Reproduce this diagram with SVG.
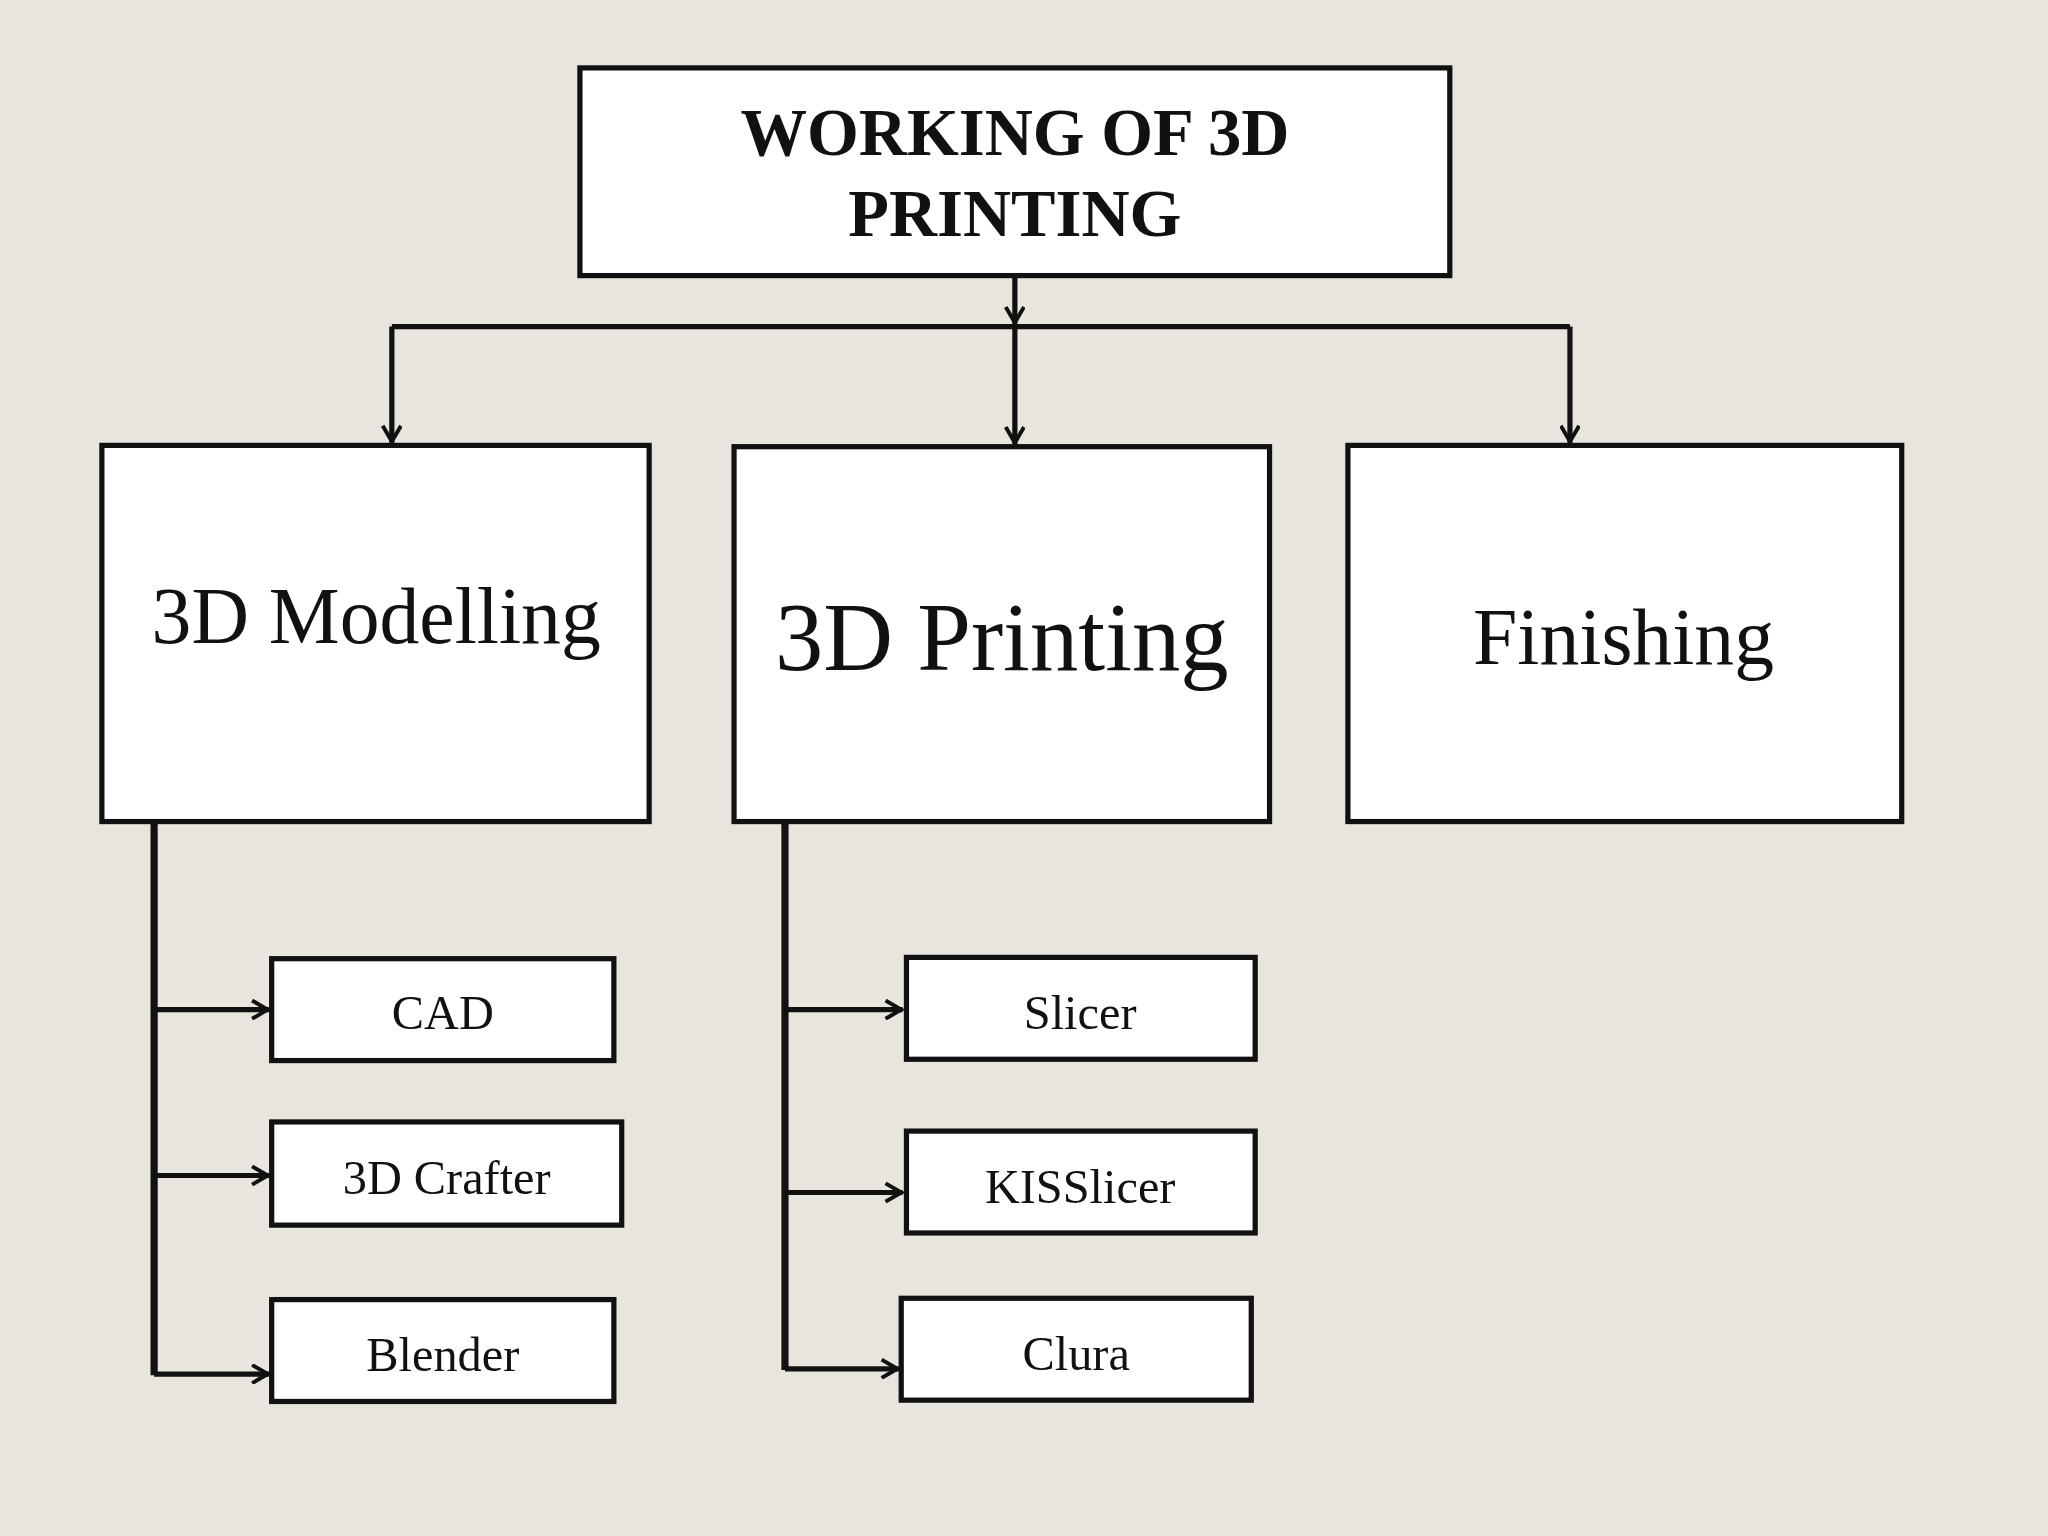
<svg xmlns="http://www.w3.org/2000/svg" width="2048" height="1536" viewBox="0 0 2048 1536">
<style>
.b{fill:#fff;stroke:#111;stroke-width:4}
.t{font-family:"Liberation Serif",serif;fill:#111;text-anchor:middle}
.c{fill:none;stroke:#111;stroke-width:4}
.v{fill:none;stroke:#111;stroke-width:5.5}
</style>
<defs>
<marker id="a" viewBox="0 0 16 16" refX="15" refY="8" markerWidth="16" markerHeight="16" markerUnits="userSpaceOnUse" orient="auto">
<path d="M2,1 L14,8 L2,15" fill="none" stroke="#111" stroke-width="3"/>
</marker>
</defs>
<rect width="2048" height="1536" fill="#e8e4de"/>
<g transform="scale(1.30612)">
<g id="connectors">
<path class="c" d="M777,211 V248" marker-end="url(#a)"/>
<path class="c" d="M300,250 H1202"/>
<path class="c" d="M300,250 V339" marker-end="url(#a)"/>
<path class="c" d="M777,250 V340" marker-end="url(#a)"/>
<path class="c" d="M1202,250 V339" marker-end="url(#a)"/>
<path class="v" d="M118,629 V1053"/>
<path class="c" d="M118,773 H206" marker-end="url(#a)"/>
<path class="c" d="M118,900 H206" marker-end="url(#a)"/>
<path class="c" d="M118,1052 H206" marker-end="url(#a)"/>
<path class="v" d="M601,625 V1049"/>
<path class="c" d="M601,773 H691" marker-end="url(#a)"/>
<path class="c" d="M601,913 H691" marker-end="url(#a)"/>
<path class="c" d="M601,1048 H688" marker-end="url(#a)"/>
</g>
<g id="top"><rect class="b" x="444" y="52" width="666" height="159"/>
<text class="t" x="777" y="119" font-size="51" font-weight="bold">WORKING OF 3D</text>
<text class="t" x="777" y="181" font-size="51" font-weight="bold">PRINTING</text></g>
<g id="modelling"><rect class="b" x="78" y="341" width="419" height="288"/><text class="t" x="288" y="492" font-size="61">3D Modelling</text></g>
<g id="printing"><rect class="b" x="562" y="342" width="410" height="287"/><text class="t" x="767" y="513" font-size="74">3D Printing</text></g>
<g id="finishing"><rect class="b" x="1032" y="341" width="424" height="288"/><text class="t" x="1243" y="508" font-size="61">Finishing</text></g>
<g id="cad"><rect class="b" x="208" y="734" width="262" height="78"/><text class="t" x="339" y="788" font-size="37">CAD</text></g>
<g id="crafter"><rect class="b" x="208" y="859" width="268" height="79"/><text class="t" x="342" y="914" font-size="37">3D Crafter</text></g>
<g id="blender"><rect class="b" x="208" y="995" width="262" height="78"/><text class="t" x="339" y="1050" font-size="37">Blender</text></g>
<g id="slicer"><rect class="b" x="694" y="733" width="267" height="78"/><text class="t" x="827" y="788" font-size="37">Slicer</text></g>
<g id="kisslicer"><rect class="b" x="694" y="866" width="267" height="78"/><text class="t" x="827" y="921" font-size="37">KISSlicer</text></g>
<g id="clura"><rect class="b" x="690" y="994" width="268" height="78"/><text class="t" x="824" y="1049" font-size="37">Clura</text></g>
</g>
</svg>
